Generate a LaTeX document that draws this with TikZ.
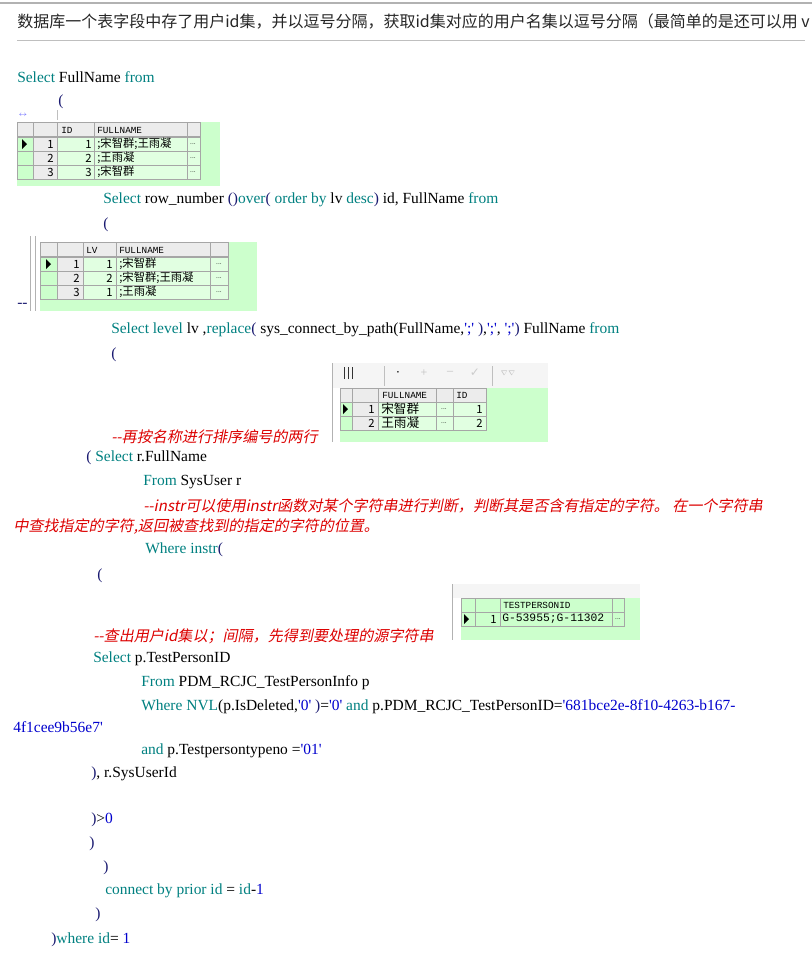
\documentclass[tikz,border=0pt]{standalone}
\usepackage{fontspec}
\setmainfont{Liberation Serif}
\setmonofont{Liberation Mono}
\newfontfamily\cjk{Noto Sans CJK SC}
\newfontfamily\cjkit{Noto Sans CJK SC}[FakeSlant=0.2]
\newfontfamily\symf{DejaVu Sans}
\usetikzlibrary{positioning}
\definecolor{kwteal}{RGB}{0,128,128}
\definecolor{strblue}{RGB}{0,0,205}
\definecolor{parblue}{RGB}{25,25,112}
\definecolor{cmred}{RGB}{220,0,0}
\definecolor{gridgreen}{RGB}{204,255,204}
\definecolor{rowgreen}{RGB}{225,255,225}
\definecolor{headgray}{RGB}{236,236,236}
\newcommand{\kw}[1]{\textcolor{kwteal}{#1}}
\newcommand{\sv}[1]{\textcolor{strblue}{#1}}
\newcommand{\pb}[1]{\textcolor{parblue}{#1}}
\newcommand{\q}{\textquotesingle}
\begin{document}
\begin{tikzpicture}[x=0.75pt,y=-0.75pt,
    code/.style={anchor=west,inner sep=0pt,font=\fontsize{11.6}{13}\selectfont},
    note/.style={anchor=west,inner sep=0pt,text=cmred,font=\fontsize{11.3}{13}\cjkit},
    cell/.style={draw=gray!70,line width=0.4pt},
    celltxt/.style={inner sep=0pt,font=\fontsize{8.5}{9}\selectfont\cjk},
    headtxt/.style={anchor=west,inner sep=0pt,font=\fontsize{7}{7}\ttfamily}]
  \useasboundingbox (0,0) rectangle (812,954);
  % title
  \draw[gray!60,line width=1pt] (0,3) -- (812,3);
  \draw[gray!50] (17,40) -- (805,40);
  \node (title) [anchor=west,inner sep=0pt,font=\fontsize{12}{14}\cjk,text=black!85] at (17,22)
    {数据库一个表字段中存了用户id集，并以逗号分隔，获取id集对应的用户名集以逗号分隔（最简单的是还可以用 v};
  % code lines
  \node (l1) [code] at (17,77) {\kw{Select} FullName \kw{from}};
  \node (l2) [code] at (58,102) {\pb{(}};
  % table 1
  \fill[gridgreen] (17,122) rectangle (220,186);
  \fill[white] (17,110) rectangle (220,122);
  \draw[gray!50] (57,110) -- (57,120);
  \node (t1bar) [inner sep=0pt,font=\tiny,text=blue!60] at (23,115) {$\leftrightarrow$};
  \foreach \y in {137,151,165} \fill[rowgreen] (57,\y) rectangle (200,\y+14);
  \fill[headgray] (17,122) rectangle (200,137);
  \fill[headgray] (33,137) rectangle (57,179);
  \foreach \y in {122,137,151,165} {
    \draw[cell] (17,\y) rectangle (33,\y+14);
    \draw[cell] (33,\y) rectangle (57,\y+14);
    \draw[cell] (57,\y) rectangle (94,\y+14);
    \draw[cell] (94,\y) rectangle (187,\y+14);
    \draw[cell] (187,\y) rectangle (200,\y+14);
  }
  \fill (22,139) -- (27,144) -- (22,149) -- cycle;
  \node (t1h1) [headtxt] at (61,130) {ID};
  \node (t1h2) [headtxt] at (97,130) {FULLNAME};
  \foreach \y/\n/\v/\t in {144/1/1/;宋智群;王雨凝,158/2/2/;王雨凝,172/3/3/;宋智群} {
    \node [celltxt,anchor=east] at (54,\y) {\n};
    \node [celltxt,anchor=east] at (92,\y) {\v};
    \node [celltxt,anchor=west] at (97,\y) {\t};
    \node [celltxt] at (193,\y) {\tiny...};
  }
  \node (l3) [code] at (103,200) {\kw{Select} row\_number \pb{()}\kw{over}\pb{(} \kw{order by} lv \kw{desc}\pb{)} id, FullName \kw{from}};
  \node (l4) [code] at (103,225) {\pb{(}};
  % table 2
  \fill[gridgreen] (40,242) rectangle (257,311);
  \fill[white] (40,233) rectangle (257,242);
  \draw[gray!60] (30,236) -- (30,311) (35,236) -- (35,311);
  \foreach \y in {257,271,285} \fill[rowgreen] (83,\y) rectangle (228,\y+14);
  \fill[headgray] (40,242) rectangle (228,257);
  \fill[headgray] (57,257) rectangle (83,299);
  \foreach \y in {242,257,271,285} {
    \draw[cell] (40,\y) rectangle (57,\y+14);
    \draw[cell] (57,\y) rectangle (83,\y+14);
    \draw[cell] (83,\y) rectangle (116,\y+14);
    \draw[cell] (116,\y) rectangle (210,\y+14);
    \draw[cell] (210,\y) rectangle (228,\y+14);
  }
  \fill (46,259) -- (51,264) -- (46,269) -- cycle;
  \node (t2h1) [headtxt] at (86,250) {LV};
  \node (t2h2) [headtxt] at (119,250) {FULLNAME};
  \foreach \y/\n/\v/\t in {264/1/1/;宋智群,278/2/2/;宋智群;王雨凝,292/3/1/;王雨凝} {
    \node [celltxt,anchor=east] at (80,\y) {\n};
    \node [celltxt,anchor=east] at (113,\y) {\v};
    \node [celltxt,anchor=west] at (119,\y) {\t};
    \node [celltxt] at (219,\y) {\tiny...};
  }
  \node (dash) [code] at (17,305) {\pb{{-}{-}}};
  \node (l5) [code] at (111,330) {\kw{Select level} lv ,\kw{replace}\pb{(} sys\_connect\_by\_path(FullName,\sv{\q;\q} \pb{)},\sv{\q;\q}, \sv{\q;\q}\pb{)}  FullName \kw{from}};
  \node (l6) [code] at (111,355) {\pb{(}};
  % table 3
  \fill[gridgreen] (340,388) rectangle (548,442);
  \fill[gray!8] (332,363) rectangle (548,388);
  \draw[gray!60] (332,363) -- (332,442);
  \draw[gray!50] (384,366) -- (384,386) (492,366) -- (492,386);
  \draw[black!80] (343,367) grid[step=4] (355,379);
  \node (t3lock) [inner sep=0pt,font=\tiny] at (398,373) {\textbullet};
  \node (t3plus) [inner sep=0pt,font=\small,text=gray!50] at (424,373) {+};
  \node (t3minus) [inner sep=0pt,font=\small,text=gray!50] at (450,373) {--};
  \node (t3check) [inner sep=0pt,font=\small\symf,text=gray!40] at (475,373) {✓};
  \node (t3down) [inner sep=0pt,font=\tiny,text=gray!50] at (508,373) {$\nabla\nabla$};
  \foreach \y in {402,416} \fill[rowgreen] (378,\y) rectangle (486,\y+14);
  \fill[headgray] (340,388) rectangle (486,402);
  \fill[headgray] (352,402) rectangle (378,430);
  \foreach \y in {388,402,416} {
    \draw[cell] (340,\y) rectangle (352,\y+14);
    \draw[cell] (352,\y) rectangle (378,\y+14);
    \draw[cell] (378,\y) rectangle (436,\y+14);
    \draw[cell] (436,\y) rectangle (453,\y+14);
    \draw[cell] (453,\y) rectangle (486,\y+14);
  }
  \fill (343,404) -- (348,409) -- (343,414) -- cycle;
  \node (t3h1) [headtxt] at (382,395) {FULLNAME};
  \node (t3h2) [headtxt] at (456,395) {ID};
  \foreach \y/\n/\t/\v in {409/1/宋智群/1,423/2/王雨凝/2} {
    \node [celltxt,anchor=east] at (375,\y) {\n};
    \node [celltxt,anchor=west] at (381,\y) {\fontsize{9.5}{9}\selectfont\t};
    \node [celltxt] at (444,\y) {\tiny...};
    \node [celltxt,anchor=east] at (483,\y) {\v};
  }
  \node (c1) [note] at (111,437) {{-}{-}再按名称进行排序编号的两行};
  \node (l7) [code] at (86,458) {\pb{(} \kw{Select} r.FullName};
  \node (l8) [code] at (143,482) {\kw{From} SysUser r};
  \node (c2) [note] at (143,506) {{-}{-}instr可以使用instr函数对某个字符串进行判断，判断其是否含有指定的字符。 在一个字符串};
  \node (c3) [note] at (13,527) {中查找指定的字符,返回被查找到的指定的字符的位置。};
  \node (l9) [code] at (145,550) {\kw{Where} \kw{instr}\pb{(}};
  \node (l10) [code] at (97,576) {\pb{(}};
  % table 4
  \fill[gridgreen] (461,598) rectangle (640,640);
  \fill[gray!8] (452,584) rectangle (640,598);
  \draw[gray!60] (452,584) -- (452,640);
  \foreach \y in {598,612} {
    \draw[cell] (461,\y) rectangle (475,\y+14);
    \draw[cell] (475,\y) rectangle (500,\y+14);
    \draw[cell] (500,\y) rectangle (612,\y+14);
    \draw[cell] (612,\y) rectangle (624,\y+14);
  }
  \fill (464,614) -- (469,619) -- (464,624) -- cycle;
  \node (t4h1) [headtxt] at (503,605) {TESTPERSONID};
  \node (t4n) [celltxt,anchor=east] at (497,619) {1};
  \node (t4v) [celltxt,anchor=west] at (502,619) {\ttfamily G-53955;G-11302};
  \node (t4d) [celltxt] at (618,619) {\tiny...};
  \node (c4) [note] at (93,636) {{-}{-}查出用户id集以；间隔，先得到要处理的源字符串};
  \node (l11) [code] at (93,659) {\kw{Select} p.TestPersonID};
  \node (l12) [code] at (141,683) {\kw{From}  PDM\_RCJC\_TestPersonInfo  p};
  \node (l13) [code] at (141,707) {\kw{Where} \kw{NVL}(p.IsDeleted,\sv{\q0\q} \pb{)}=\sv{\q0\q} \kw{and} p.PDM\_RCJC\_TestPersonID=\sv{\q681bce2e-8f10-4263-b167-}};
  \node (l14) [code] at (13,727) {\sv{4f1cee9b56e7\q}};
  \node (l15) [code] at (141,751) {\kw{and} p.Testpersontypeno =\sv{\q01\q}};
  \node (l16) [code] at (91,774) {\pb{)}, r.SysUserId};
  \node (l17) [code] at (91,820) {\pb{)}>\sv{0}};
  \node (l18) [code] at (89,844) {\pb{)}};
  \node (l19) [code] at (103,868) {\pb{)}};
  \node (l20) [code] at (105,891) {\kw{connect by prior} \kw{id} = \kw{id}-\sv{1}};
  \node (l21) [code] at (95,915) {\pb{)}};
  \node (l22) [code] at (51,940) {\pb{)}\kw{where} \kw{id}= \sv{1}};
\end{tikzpicture}
\end{document}
